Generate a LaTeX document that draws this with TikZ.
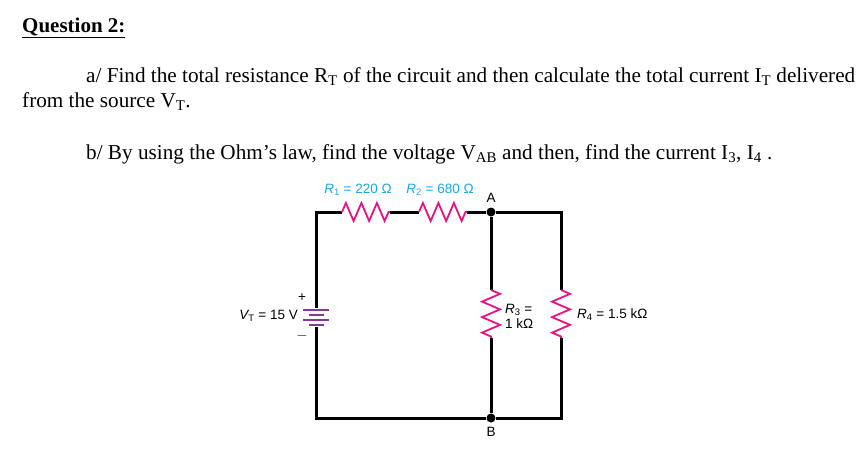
\documentclass[tikz,border=0pt]{standalone}
\usepackage{fontspec}
\setmainfont{Liberation Serif}
\newfontfamily\circfont{Liberation Sans}
\usetikzlibrary{decorations.pathmorphing}
\definecolor{resred}{RGB}{230,20,130}
\definecolor{labblue}{RGB}{20,170,230}
\definecolor{batpurple}{RGB}{130,60,150}
\tikzset{
  wire/.style={line width=3pt, line join=miter},
  res/.style={resred, line width=1.8pt, decorate,
    decoration={zigzag, segment length=15.5pt, amplitude=9pt}},
  dot/.style={circle, fill=black, inner sep=0pt, minimum size=9pt},
  txt/.style={anchor=base west, inner sep=0pt, font=\fontsize{21.2}{24}\selectfont},
  lab/.style={inner sep=0pt, font=\circfont\fontsize{13.5}{15}\selectfont}
}
\newcommand{\sym}[2]{{\itshape #1}\textsubscript{#2}}
\begin{document}
\begin{tikzpicture}[x=1pt, y=-1pt]
  \useasboundingbox (0,0) rectangle (868,453);
  % texts
  \node[txt, font=\bfseries\fontsize{21}{24}\selectfont] (q) at (22,32) {\underline{Question 2:}};
  \node[txt] (ta) at (86,82) {a/ Find the total resistance R\textsubscript{T} of the circuit and then calculate the total current I\textsubscript{T} delivered};
  \node[txt] (tb) at (22,107) {from the source V\textsubscript{T}.};
  \node[txt] (tc) at (86,159) {b/ By using the Ohm's law, find the voltage V\textsubscript{AB} and then, find the current I\textsubscript{3}, I\textsubscript{4} .};
  % corners
  \coordinate (tl) at (316,212);
  \coordinate (bl) at (316,418);
  \coordinate (tr) at (561,212);
  \coordinate (br) at (561,418);
  \node[dot] (A) at (491,212) {};
  \node[dot] (B) at (491,418) {};
  \coordinate (r1a) at (342,212); \coordinate (r1b) at (390,212);
  \coordinate (r2a) at (419,212); \coordinate (r2b) at (467,212);
  \coordinate (r3a) at (491,290); \coordinate (r3b) at (491,338);
  \coordinate (r4a) at (561,290); \coordinate (r4b) at (561,338);
  \coordinate (bt) at (316,308); \coordinate (bb) at (316,327);
  % wires
  \draw[wire] (bt) -- (tl) -- (r1a);
  \draw[wire] (r1b) -- (r2a);
  \draw[wire] (r2b) -- (A) -- (tr) -- (r4a);
  \draw[wire] (A) -- (r3a);
  \draw[wire] (r3b) -- (B);
  \draw[wire] (r4b) -- (br) -- (B) -- (bl) -- (bb);
  % resistors
  \draw[res] (r1a) -- (r1b);
  \draw[res] (r2a) -- (r2b);
  \draw[res] (r3a) -- (r3b);
  \draw[res] (r4a) -- (r4b);
  % battery
  \foreach \y/\w in {310/13, 315/7.5, 320/13, 325/7.5}
    \draw[batpurple, line width=2.5pt] (316-\w,\y) -- (316+\w,\y);
  % labels
  \node[lab, labblue] (l1) at (358,190) {\sym{R}{1} = 220 Ω};
  \node[lab, labblue] (l2) at (440,190) {\sym{R}{2} = 680 Ω};
  \node[lab] (la) at (491,198) {A};
  \node[lab] (lb) at (491,432) {B};
  \node[lab, anchor=east] (lv) at (298,316) {\sym{V}{T} = 15 V};
  \node[lab] (lp) at (302,298) {+};
  \node[lab] (lm) at (302,336) {$-$};
  \node[lab, anchor=west, align=left] (l3) at (505,316) {\sym{R}{3} =\\1 kΩ};
  \node[lab, anchor=west] (l4) at (577,315) {\sym{R}{4} = 1.5 kΩ};
\end{tikzpicture}
\end{document}
